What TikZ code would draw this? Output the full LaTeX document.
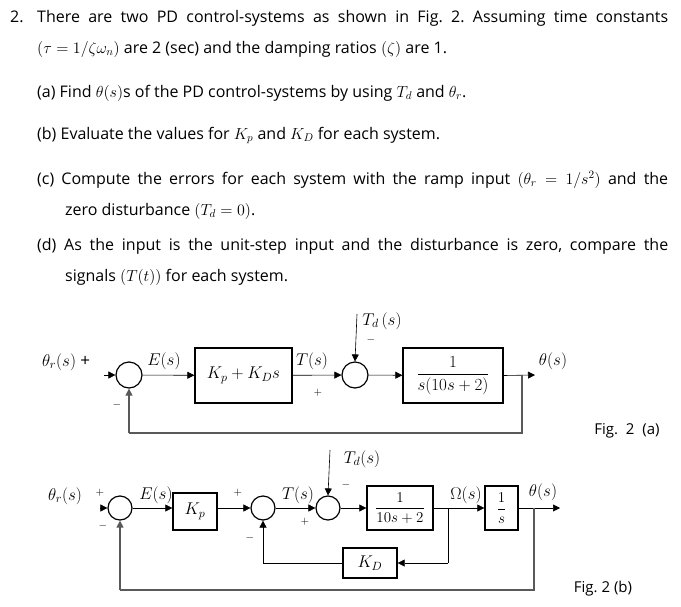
\documentclass[tikz,border=0pt]{standalone}
\usepackage{fix-cm}
\usepackage{amsmath}
\usepackage{fontspec}
\setmainfont{Open Sans}
\usetikzlibrary{arrows.meta}
\begin{document}
\frenchspacing
\begin{tikzpicture}[x=1pt,y=-1pt,
  txt/.style={anchor=base west,inner sep=0pt,font=\fontsize{16}{19}\selectfont},
  lbl/.style={inner sep=0pt,font=\fontsize{17}{20}\selectfont},
  sm/.style={inner sep=0pt,font=\fontsize{11}{13}\selectfont},
  blk/.style={draw,line width=1.3pt,inner sep=0pt,font=\fontsize{17}{20}\selectfont},
  sum/.style={draw,circle,line width=1.2pt,minimum size=#1,inner sep=0pt},
  ar/.style={-{Triangle[length=7pt,width=7pt]},line width=0.6pt},
  ln/.style={line width=0.6pt},
  fb/.style={line width=1.2pt,black!65}]
\useasboundingbox (0,0) rectangle (681,606);
% text
\node[txt] (n2) at (10,22) {2.};
\node[txt] (l1) at (37,22) {\makebox[631pt][s]{There are two PD control-systems as shown in Fig. 2. Assuming time constants}};
\node[txt] (l2) at (37,53) {$(\tau=1/\zeta\omega_n)$ are 2 (sec) and the damping ratios $(\zeta)$ are 1.};
\node[txt] (la) at (37,97) {(a) Find $\theta(s)$s of the PD control-systems by using $T_d$ and $\theta_r$.};
\node[txt] (lb) at (37,139) {(b) Evaluate the values for $K_p$ and $K_D$ for each system.};
\node[txt] (lc) at (37,184) {\makebox[631pt][s]{(c) Compute the errors for each system with the ramp input $(\theta_r\!=\!1/s^2)$ and the}};
\node[txt] (lc2) at (65,215) {zero disturbance $(T_d=0)$.};
\node[txt] (ld) at (37,250) {\makebox[631pt][s]{(d) As the input is the unit-step input and the disturbance is zero, compare the}};
\node[txt] (ld2) at (65,281) {signals $(T(t))$ for each system.};
% Fig a
\node[lbl,anchor=base west] (tha) at (42,366) {$\theta_r(s)$ +};
\coordinate (ina) at (104,375);
\node[sum=26pt] (sa1) at (129,375) {};
\node[blk,minimum width=97pt,minimum height=55pt] (ba1) at (243.5,375.5) {$K_p+K_Ds$};
\node[sum=26pt] (sa2) at (355,375) {};
\node[blk,minimum width=100pt,minimum height=55pt] (ba2) at (453,375.5) {$\dfrac{1}{s(10s+2)}$};
\coordinate (tda) at (357,314);
\coordinate (outa) at (535,375);
\coordinate (tapa) at (522,375);
\node[lbl] (ea) at (164,361) {$E(s)$};
\node[lbl] (ta) at (312,361) {$T(s)$};
\node[lbl] (tdla) at (382,321) {$T_d\,(s)$};
\node[lbl] (tha2) at (553,361) {$\theta(s)$};
\node[sm] (ma1) at (371,340) {$-$};
\node[sm] (pa1) at (318,393) {$+$};
\node[sm] (ma2) at (117,405) {$-$};
\node[lbl,font=\fontsize{15}{18}\selectfont] (figa) at (627,431) {Fig.~~2~~(a)};
\draw[ar] (ina) -- (sa1);
\draw[ar] (sa1) -- (ba1);
\draw[ar] (ba1) -- (sa2);
\draw[ar] (sa2) -- (ba2);
\draw[ar] (ba2.east) -- (outa);
\draw[ar] (tda) -- (sa2.north);
\draw[fb] (tapa) -- (522,433) -- (129,433);
\draw[ar,fb] (129,433) -- (sa1.south);
% Fig b
\node[lbl] (thb) at (65,496) {$\theta_r(s)$};
\coordinate (inb) at (100,508);
\node[sum=24pt] (sb1) at (120,508) {};
\node[blk,minimum width=44pt,minimum height=37pt] (kp) at (195,511.5) {$K_p$};
\node[sum=24pt] (sb2) at (263,508) {};
\node[sum=24pt] (sb3) at (328,508) {};
\node[blk,minimum width=66pt,minimum height=44pt,font=\fontsize{15}{18}\selectfont] (gb) at (400,508) {$\dfrac{1}{10s+2}$};
\node[blk,minimum width=33pt,minimum height=44pt,font=\fontsize{15}{18}\selectfont] (ib) at (501.5,508) {$\dfrac{1}{s}$};
\node[blk,minimum width=54pt,minimum height=30pt] (kd) at (370,563) {$K_D$};
\coordinate (tdb) at (330,450);
\coordinate (outb) at (560,508);
\node[lbl] (eb) at (156,495) {$E(s)$};
\node[lbl] (tb) at (298,495) {$T(s)$};
\node[lbl] (tdlb) at (362,459) {$T_d(s)$};
\node[lbl] (om) at (466,495) {$\Omega(s)$};
\node[lbl] (thb2) at (543,492) {$\theta(s)$};
\node[sm] (pb1) at (100,493) {$+$};
\node[sm] (pb2) at (238,493) {$+$};
\node[sm] (pb3) at (305,522) {$+$};
\node[sm] (mb1) at (346,485) {$-$};
\node[sm] (mb2) at (250,538) {$-$};
\node[sm] (mb3) at (103,526) {$-$};
\node[lbl,font=\fontsize{15}{18}\selectfont] (figb) at (603,589) {Fig. 2 (b)};
\draw[ar] (inb) -- (sb1);
\draw[ar] (sb1) -- (kp.west |- sb1);
\draw[ar] (kp.east |- sb2) -- (sb2);
\draw[ar] (sb2) -- (sb3);
\draw[ar] (sb3) -- (gb);
\draw[ar] (gb) -- (ib);
\draw[ar] (ib) -- (outb);
\draw[ar] (tdb) -- (sb3.north);
\draw[ln] (448,508) -- (448,563);
\draw[ar] (448,563) -- (kd.east);
\draw[ln] (kd.west) -- (263,563);
\draw[ar] (263,563) -- (sb2.south);
\draw[fb] (534,508) -- (534,590) -- (120,590);
\draw[ar,fb] (120,590) -- (sb1.south);
\end{tikzpicture}
\end{document}
